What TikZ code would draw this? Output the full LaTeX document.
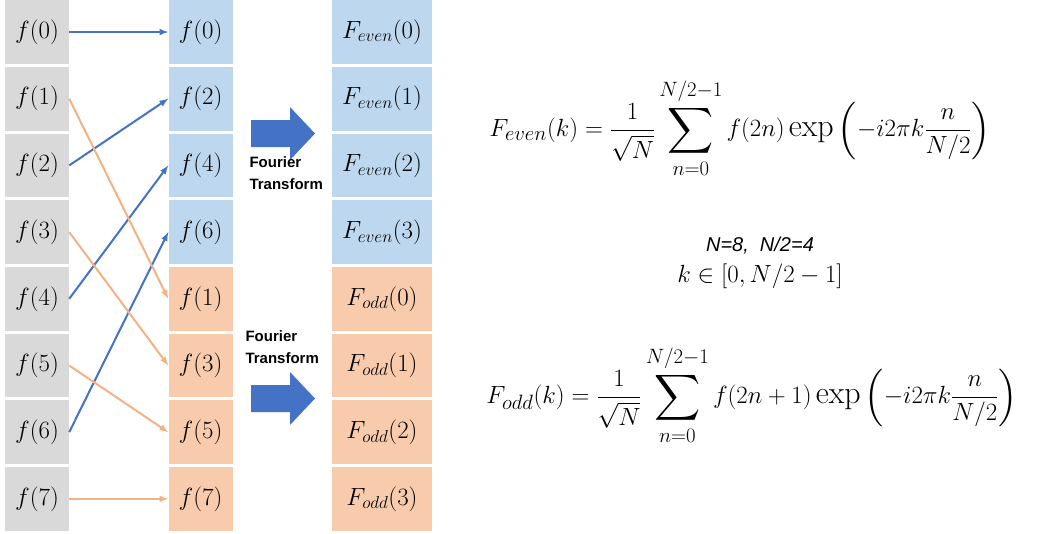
\documentclass[tikz,border=0pt]{standalone}
\usepackage{amsmath,amssymb}
\usepackage{fontspec}
\newfontfamily\sans{Liberation Sans}
\begin{document}
\begin{tikzpicture}[x=1pt,y=-1pt,
 cell/.style={minimum width=#1,minimum height=63.6pt,inner sep=0,font=\fontsize{26}{28}\selectfont},
 gc/.style={cell=64pt,fill=gray!30},
 bc/.style={cell=64pt,fill={rgb,255:red,189;green,215;blue,238}},
 oc/.style={cell=64pt,fill={rgb,255:red,248;green,203;blue,173}},
 bF/.style={cell=100pt,fill={rgb,255:red,189;green,215;blue,238}},
 oF/.style={cell=100pt,fill={rgb,255:red,248;green,203;blue,173}},
 bl/.style={draw={rgb,255:red,68;green,114;blue,196},line width=2pt,-latex},
 ol/.style={draw={rgb,255:red,244;green,177;blue,131},line width=2pt,-latex},
 big/.style={fill={rgb,255:red,68;green,114;blue,196}},
 ft/.style={font=\sans\bfseries\fontsize{15}{22}\selectfont,align=left},
 eq/.style={font=\fontsize{32}{36}\selectfont}]
\useasboundingbox (0,0) rectangle (1057,533);
\foreach \i in {0,...,7}{
  \node[gc] (L\i) at (37,{32+66.7*\i}) {$f(\i)$};
}
\foreach \k/\j in {0/0,1/2,2/4,3/6}{
  \node[bc] (M\j) at (200.5,{32+66.7*\k}) {$f(\j)$};
  \node[bF] (E\k) at (382,{32+66.7*\k}) {$F_{even}(\k)$};
}
\foreach \k/\j in {4/1,5/3,6/5,7/7}{
  \node[oc] (M\j) at (200.5,{32+66.7*\k}) {$f(\j)$};
  \pgfmathtruncatemacro\kk{\k-4}
  \node[oF] (O\kk) at (382,{32+66.7*\k}) {$F_{odd}(\kk)$};
}
\foreach \j in {0,2,4,6}{\draw[bl] (L\j.east) -- (M\j.west);}
\foreach \j in {1,3,5,7}{\draw[ol] (L\j.east) -- (M\j.west);}
\fill[big] (251,120)--(290,120)--(290,107)--(315,133.5)--(290,160)--(290,147)--(251,147)--cycle;
\fill[big] (251,385)--(290,385)--(290,372)--(315,398.5)--(290,425)--(290,412)--(251,412)--cycle;
\node[ft,anchor=north west] (t1) at (246,153) {Fourier\\Transform};
\node[ft,anchor=north west] (t2) at (242,327) {Fourier\\Transform};
\node[eq] (eq1) at (740,128)
 {$\displaystyle F_{even}(k)=\frac{1}{\sqrt{N}}\sum_{n=0}^{N/2-1} f(2n)\exp\left(-i2\pi k\frac{n}{N/2}\right)$};
\node[eq] (eq2) at (752,395)
 {$\displaystyle F_{odd}(k)=\frac{1}{\sqrt{N}}\sum_{n=0}^{N/2-1} f(2n+1)\exp\left(-i2\pi k\frac{n}{N/2}\right)$};
\node[font=\sans\itshape\fontsize{20}{22}\selectfont] (nn) at (760,246) {N=8,~~N/2=4};
\node[font=\fontsize{23}{26}\selectfont] (kk) at (760,276) {$k\in[0,N/2-1]$};
\end{tikzpicture}
\end{document}
